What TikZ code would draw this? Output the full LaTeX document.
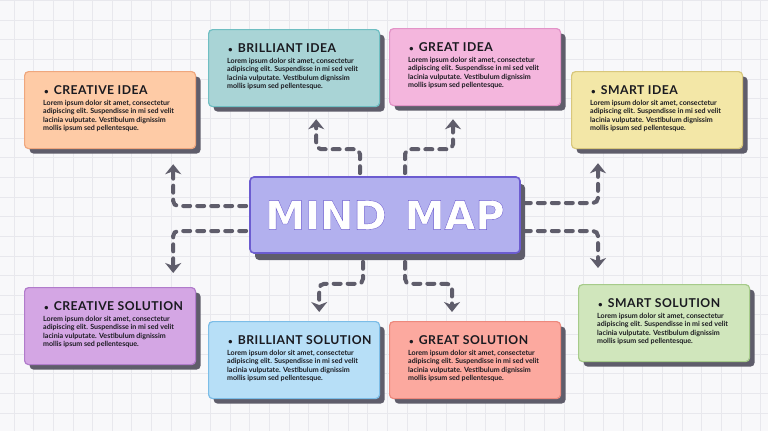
\documentclass[tikz,border=0pt]{standalone}
\usepackage{fontspec}
\setmainfont{Lato}
\newfontfamily\mapfont{DejaVu Sans}[FakeBold=0.9]
\usetikzlibrary{positioning,arrows.meta,shadows}
\definecolor{bg}{HTML}{F8F8FA}
\definecolor{gridc}{HTML}{E8E8ED}
\definecolor{shade}{HTML}{5F5D6B}
\definecolor{ink}{HTML}{1A1A20}
\definecolor{peach}{HTML}{FECBA6}   \definecolor{peachline}{HTML}{EFA77E}
\definecolor{teal}{HTML}{A9D4D6}    \definecolor{tealline}{HTML}{6FBEC2}
\definecolor{pink}{HTML}{F4B6DD}    \definecolor{pinkline}{HTML}{E293C7}
\definecolor{lemon}{HTML}{F3E7A7}   \definecolor{lemonline}{HTML}{D8C77C}
\definecolor{lav}{HTML}{B2B0EE}     \definecolor{lavline}{HTML}{6C5CD0}
\definecolor{plum}{HTML}{D4A6E4}    \definecolor{plumline}{HTML}{B17CCB}
\definecolor{sky}{HTML}{B7DFF7}     \definecolor{skyline}{HTML}{7CBDE7}
\definecolor{salmon}{HTML}{FCA99F}  \definecolor{salmonline}{HTML}{ED897D}
\definecolor{sage}{HTML}{D0E6BC}    \definecolor{sageline}{HTML}{A6CB8A}
\newcommand\lorem{Lorem ipsum dolor sit amet, consectetur\\adipiscing elit. Suspendisse in mi sed velit\\lacinia vulputate. Vestibulum dignissim\\mollis ipsum sed pellentesque.}
\newcommand\dotmark{{\fontsize{8}{8}\selectfont\textbullet}\hspace{5pt}}
\tikzset{
  topic/.style={rectangle,rounded corners=4pt,line width=1.2pt,
    minimum width=171pt,minimum height=77pt,inner sep=0pt,anchor=north west,
    general shadow={fill=shade,shadow xshift=5pt,shadow yshift=-5pt}},
  hub/.style={rectangle,rounded corners=4pt,line width=1.6pt,fill=lav,draw=lavline,
    minimum width=270pt,minimum height=76pt,inner sep=0pt,text=white,
    general shadow={fill=shade,shadow xshift=5pt,shadow yshift=-7pt}},
  head/.style={anchor=base west,inner sep=0pt,text=ink,
    font=\bfseries\fontsize{12.2}{13}\selectfont\addfontfeatures{LetterSpace=4}},
  blurb/.style={anchor=north west,inner sep=0pt,align=left,text=ink,
    font=\bfseries\fontsize{7.1}{8.5}\selectfont},
  link/.style={draw=shade,line width=4pt,line cap=round,
    dash pattern=on 7pt off 7pt,rounded corners=5pt,shorten <=3pt,
    -{Stealth[length=10pt,width=16pt,inset=3pt]}},
  gridline/.style={draw=gridc,line width=0.9pt}
}

\begin{document}
\begin{tikzpicture}[x=1pt,y=-1pt]
  \useasboundingbox (0,0) rectangle (768,431);
  \fill[bg] (0,0) rectangle (768,431);
  \foreach \i in {0,...,38}
    \draw[gridline] ({14+19.65*\i},0) -- ({14+19.65*\i},431);
  \foreach \j in {0,...,21}
    \draw[gridline] (0,{0.5+19.65*\j}) -- (768,{0.5+19.65*\j});

  % central topic
  \node[hub] (map) at (385,215)
    {\mapfont\bfseries\fontsize{40}{40}\selectfont\color{white}\special{pdf:code 0.424 0.361 0.816 RG}MIND\hspace{18pt}MAP};

  % ideas
  \node[topic,fill=peach,draw=peachline] (cidea) at (24,71) {};
  \node[head] (cidea-head) at ([shift={(20,23)}]cidea.north west) {\dotmark CREATIVE IDEA};
  \node[blurb] (cidea-text) at ([shift={(19,29)}]cidea.north west) {\lorem};

  \node[topic,fill=teal,draw=tealline] (bidea) at (208,29) {};
  \node[head] (bidea-head) at ([shift={(20,23)}]bidea.north west) {\dotmark BRILLIANT IDEA};
  \node[blurb] (bidea-text) at ([shift={(19,29)}]bidea.north west) {\lorem};

  \node[topic,fill=pink,draw=pinkline] (gidea) at (389,28) {};
  \node[head] (gidea-head) at ([shift={(20,23)}]gidea.north west) {\dotmark GREAT IDEA};
  \node[blurb] (gidea-text) at ([shift={(19,29)}]gidea.north west) {\lorem};

  \node[topic,fill=lemon,draw=lemonline] (sidea) at (571,71) {};
  \node[head] (sidea-head) at ([shift={(20,23)}]sidea.north west) {\dotmark SMART IDEA};
  \node[blurb] (sidea-text) at ([shift={(19,29)}]sidea.north west) {\lorem};

  % solutions
  \node[topic,fill=plum,draw=plumline] (csol) at (24,287) {};
  \node[head] (csol-head) at ([shift={(20,23)}]csol.north west) {\dotmark CREATIVE SOLUTION};
  \node[blurb] (csol-text) at ([shift={(19,29)}]csol.north west) {\lorem};

  \node[topic,fill=sky,draw=skyline] (bsol) at (208,321) {};
  \node[head] (bsol-head) at ([shift={(20,23)}]bsol.north west) {\dotmark BRILLIANT SOLUTION};
  \node[blurb] (bsol-text) at ([shift={(19,29)}]bsol.north west) {\lorem};

  \node[topic,fill=salmon,draw=salmonline] (gsol) at (389,321) {};
  \node[head] (gsol-head) at ([shift={(20,23)}]gsol.north west) {\dotmark GREAT SOLUTION};
  \node[blurb] (gsol-text) at ([shift={(19,29)}]gsol.north west) {\lorem};

  \node[topic,fill=sage,draw=sageline] (ssol) at (578,284) {};
  \node[head] (ssol-head) at ([shift={(20,23)}]ssol.north west) {\dotmark SMART SOLUTION};
  \node[blurb] (ssol-text) at ([shift={(19,29)}]ssol.north west) {\lorem};

  % links
  \draw[link] ([shift={(0,-9)}]map.west) -| ([shift={(-23,15)}]cidea.south east);
  \draw[link] ([shift={(0,16)}]map.west) -| ([shift={(-23,-14)}]csol.north east);
  \draw[link] ([shift={(-25,0)}]map.north) -- ++(0,-27) -| ([shift={(-64,12)}]bidea.south east);
  \draw[link] ([shift={(20,0)}]map.north) -- ++(0,-27) -| ([shift={(64,13)}]gidea.south west);
  \draw[link] ([shift={(0,-12)}]map.east) -| ([shift={(27,14)}]sidea.south west);
  \draw[link] ([shift={(0,16)}]map.east) -| ([shift={(20,-16)}]ssol.north west);
  \draw[link,shorten <=8pt] ([shift={(-22,0)}]map.south) -- ++(0,30) -| ([shift={(-61,-9)}]bsol.north east);
  \draw[link,shorten <=8pt] ([shift={(20,0)}]map.south) -- ++(0,30) -| ([shift={(63,-9)}]gsol.north west);
\end{tikzpicture}
\end{document}
